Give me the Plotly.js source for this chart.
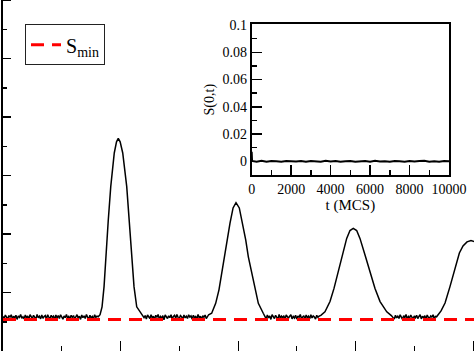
<!DOCTYPE html>
<html>
<head>
<meta charset="utf-8">
<script src="https://cdn.plot.ly/plotly-3.0.1.min.js"></script>
<style>
html,body{margin:0;padding:0;background:#fff;}
body{width:474px;height:351px;overflow:hidden;position:relative;}
#chart{position:absolute;left:-80px;top:-50px;}
</style>
</head>
<body>
<div id="chart"></div>
<script>
// Main panel: S(k,t) versus time
const timeBaseA = [0,1,2,3,4,5,6,7,8,9,10,11,12,13,14,15,16,17,18,19,20,21,22,23,24,25,26,27,28,29,30,31,32,33,34,35,36,37,38,39,
  40,41,42,43,44,45,46,47,48,49,50,51,52,53,54,55,56,57,58,59,60,61,62,63,64,65,66,67,68,69,70,71,72,73,74,75,76,77,78,79,80,81];
const sBaseA = [0.118,0.111,0.123,0.114,0.109,0.121,0.116,0.124,0.110,0.119,0.113,0.122,0.108,0.120,0.115,0.125,0.112,0.117,0.110,0.123,
  0.113,0.120,0.108,0.124,0.115,0.111,0.122,0.117,0.109,0.125,0.114,0.119,0.110,0.123,0.112,0.118,0.121,0.108,0.124,0.116,
  0.110,0.122,0.115,0.119,0.107,0.123,0.113,0.121,0.111,0.124,0.116,0.109,0.120,0.114,0.125,0.112,0.118,0.110,0.122,0.115,
  0.121,0.109,0.117,0.124,0.112,0.119,0.108,0.123,0.114,0.120,0.111,0.125,0.116,0.110,0.122,0.113,0.118,0.109,0.124,0.115,0.119,0.117];
const timePeak1 = [82.6,84.3,86.0,87.7,89.6,91.7,94.7,96.6,98.1,99.7,101.9,105.3,107.5,109.5,111.5,113.8,118.0];
const sPeak1 = [0.124,0.151,0.220,0.335,0.448,0.562,0.677,0.715,0.727,0.715,0.677,0.562,0.448,0.335,0.220,0.151,0.123];
const timeBaseB = [120,121,122,123,124,125,126,127,128,129,130,131,132,133,134,135,136,137,138,139,140,141,142,143,144,145,146,147,
  148,149,150,151,152,153,154,155,156,157,158,159,160,161,162,163,164,165,166,167,168,169,170,171,172,173,174,175];
const sBaseB = [0.114,0.121,0.109,0.123,0.116,0.111,0.124,0.113,0.119,0.108,0.122,0.115,0.125,0.110,0.118,0.112,0.121,0.107,0.123,0.116,
  0.111,0.120,0.114,0.124,0.109,0.118,0.122,0.112,0.125,0.115,0.110,0.121,0.117,0.108,0.123,0.113,0.119,0.111,0.124,0.116,
  0.120,0.109,0.122,0.114,0.118,0.110,0.125,0.113,0.119,0.108,0.121,0.115,0.123,0.111,0.117,0.124];
const timePeak2 = [177.6,181.0,183.8,186.1,188.3,190.9,193.2,195.8,198.3,201.1,204.0,206.6,208.8,211.7,214.5,217.3,221.5];
const sPeak2 = [0.129,0.163,0.209,0.266,0.322,0.379,0.437,0.489,0.507,0.489,0.437,0.379,0.322,0.266,0.209,0.163,0.129];
const timeBaseC = [223,224,225,226,227,228,229,230,231,232,233,234,235,236,237,238,239,240,241,242,243,244,245,246,
  247,248,249,250,251,252,253,254,255,256,257,258,259,260,261,262,263,264,265,266,267,268,269];
const sBaseC = [0.116,0.110,0.123,0.113,0.120,0.108,0.124,0.115,0.111,0.122,0.117,0.109,0.125,0.112,0.119,0.114,0.121,0.107,0.123,0.116,
  0.112,0.119,0.124,0.110,0.118,0.113,0.122,0.109,0.120,0.115,0.125,0.111,0.117,0.121,0.108,0.123,0.114,0.119,0.110,0.124,
  0.113,0.120,0.116,0.109,0.122,0.115,0.119];
const timePeak3 = [270.5,274.0,278.3,281.7,285.4,288.8,292.5,295.3,298.1,301.0,303.8,308.1,312.3,316.6,320.9,326.6,330.5];
const sPeak3 = [0.122,0.134,0.169,0.214,0.271,0.328,0.385,0.412,0.419,0.412,0.385,0.328,0.271,0.214,0.169,0.134,0.121];
const timeBaseD = [332,333,334,335,336,337,338,339,340,341,342,343,344,345,346,347,348,349,350,351,352,353,354,355,
  356,357,358,359,360,361,362,363,364,365,366,367,368,369];
const sBaseD = [0.115,0.109,0.122,0.113,0.119,0.111,0.124,0.116,0.108,0.121,0.114,0.125,0.110,0.118,0.112,0.123,0.117,0.109,0.120,0.114,
  0.122,0.111,0.118,0.124,0.110,0.119,0.113,0.121,0.108,0.123,0.115,0.112,0.120,0.116,0.124,0.110,0.118,0.117];
const timePeak4 = [372.8,376.2,380.4,384.1,388.4,391.5,394.9,398.3,401.7,405.1,410,415,420,425,430,435,440];
const sPeak4 = [0.137,0.164,0.220,0.277,0.335,0.359,0.373,0.378,0.373,0.359,0.330,0.280,0.220,0.160,0.125,0.116,0.118];

const timeMain = [].concat(timeBaseA, timePeak1, timeBaseB, timePeak2, timeBaseC, timePeak3, timeBaseD, timePeak4);
const sMain = [].concat(sBaseA, sPeak1, sBaseB, sPeak2, sBaseC, sPeak3, sBaseD, sPeak4);

const sMin = 0.1077;
const legendLabel = 'S<sub>min</sub>';

// Inset: S(0,t) versus t (MCS)
const tInset = [0,20,250,500,750,1000,1250,1500,1750,2000,2250,2500,2750,3000,3250,3500,3750,4000,4250,4500,4750,
  5000,5250,5500,5750,6000,6250,6500,6750,7000,7250,7500,7750,8000,8250,8500,8750,9000,9250,9500,9750,10000];
const sInset = [0.007,0.0003,-0.0002,0.0004,-0.0003,0.0002,0.0001,-0.0002,0.0003,0.0000,-0.0001,0.0002,-0.0003,0.0003,0.0001,
  -0.0002,0.0004,-0.0001,0.0002,-0.0003,0.0001,0.0003,-0.0002,0.0000,0.0003,-0.0002,0.0004,-0.0001,0.0001,-0.0003,0.0002,
  0.0000,-0.0002,0.0003,-0.0001,0.0002,0.0004,-0.0002,0.0001,-0.0003,0.0002,0.0000];
const insetXTitle = 't (MCS)';
const insetYTitle = 'S(0,t)';

const serif = 'Liberation Serif, serif';

const traces = [
  {x: timeMain, y: sMain, mode: 'lines', line: {color: '#000', width: 1.5}, showlegend: false, xaxis: 'x', yaxis: 'y', hoverinfo: 'skip'},
  {x: [timeMain[0], timeMain[timeMain.length - 1]], y: [sMin, sMin], mode: 'lines', name: legendLabel,
   line: {color: '#ff0000', width: 3, dash: '13px,8px'}, xaxis: 'x', yaxis: 'y'},
  {x: tInset, y: sInset, mode: 'lines', line: {color: '#000', width: 2}, showlegend: false, xaxis: 'x2', yaxis: 'y2'}
];

const axBase = {showgrid: false, zeroline: false, showline: true, linecolor: '#000', linewidth: 2,
  ticks: 'inside', tickcolor: '#000'};

const layout = {
  width: 620, height: 462,
  margin: {l: 83, r: 20, t: 30, b: 60},
  paper_bgcolor: '#fff', plot_bgcolor: '#fff',
  font: {family: serif, color: '#000', size: 13},
  showlegend: true,
  legend: {x: 0.0426, y: 0.881, xanchor: 'left', yanchor: 'top', bgcolor: '#fff',
    bordercolor: '#222', borderwidth: 1, font: {family: serif, size: 20, color: '#000'}},
  xaxis: Object.assign({}, axBase, {domain: [0, 1], anchor: 'y', range: [0, 440], tick0: 0, dtick: 100,
    ticklen: 11, tickwidth: 1, showticklabels: false,
    minor: {dtick: 50, tick0: 0, ticks: 'inside', ticklen: 6, tickcolor: '#000', tickwidth: 1}}),
  yaxis: Object.assign({}, axBase, {domain: [0, 1], anchor: 'x', range: [-0.00342, 1.2684], tick0: 0, dtick: 0.2,
    ticklen: 8, tickwidth: 1.5, showticklabels: false,
    minor: {dtick: 0.1, tick0: 0, ticks: 'inside', ticklen: 4, tickcolor: '#000', tickwidth: 1.5}}),
  xaxis2: Object.assign({}, axBase, {domain: [0.4810, 0.8627], anchor: 'y2', range: [0, 10000], tick0: 0, dtick: 2000,
    mirror: true, ticklen: 10, tickwidth: 1.5, tickformat: 'd', tickfont: {family: serif, size: 14},
    title: {text: insetXTitle, font: {family: serif, size: 15}, standoff: 0},
    minor: {dtick: 1000, tick0: 0, ticks: 'inside', ticklen: 5, tickcolor: '#000', tickwidth: 1.5}}),
  yaxis2: Object.assign({}, axBase, {domain: [0.4758, 0.8809], anchor: 'x2', range: [-0.01, 0.1005], tick0: 0, dtick: 0.02,
    mirror: true, ticklen: 10, tickwidth: 1.5, tickfont: {family: serif, size: 14},
    title: {text: insetYTitle, font: {family: serif, size: 14}, standoff: 4},
    minor: {dtick: 0.01, tick0: 0, ticks: 'inside', ticklen: 5, tickcolor: '#000', tickwidth: 1.5}})
};

Plotly.newPlot('chart', traces, layout, {displayModeBar: false, staticPlot: true});
</script>
</body>
</html>
